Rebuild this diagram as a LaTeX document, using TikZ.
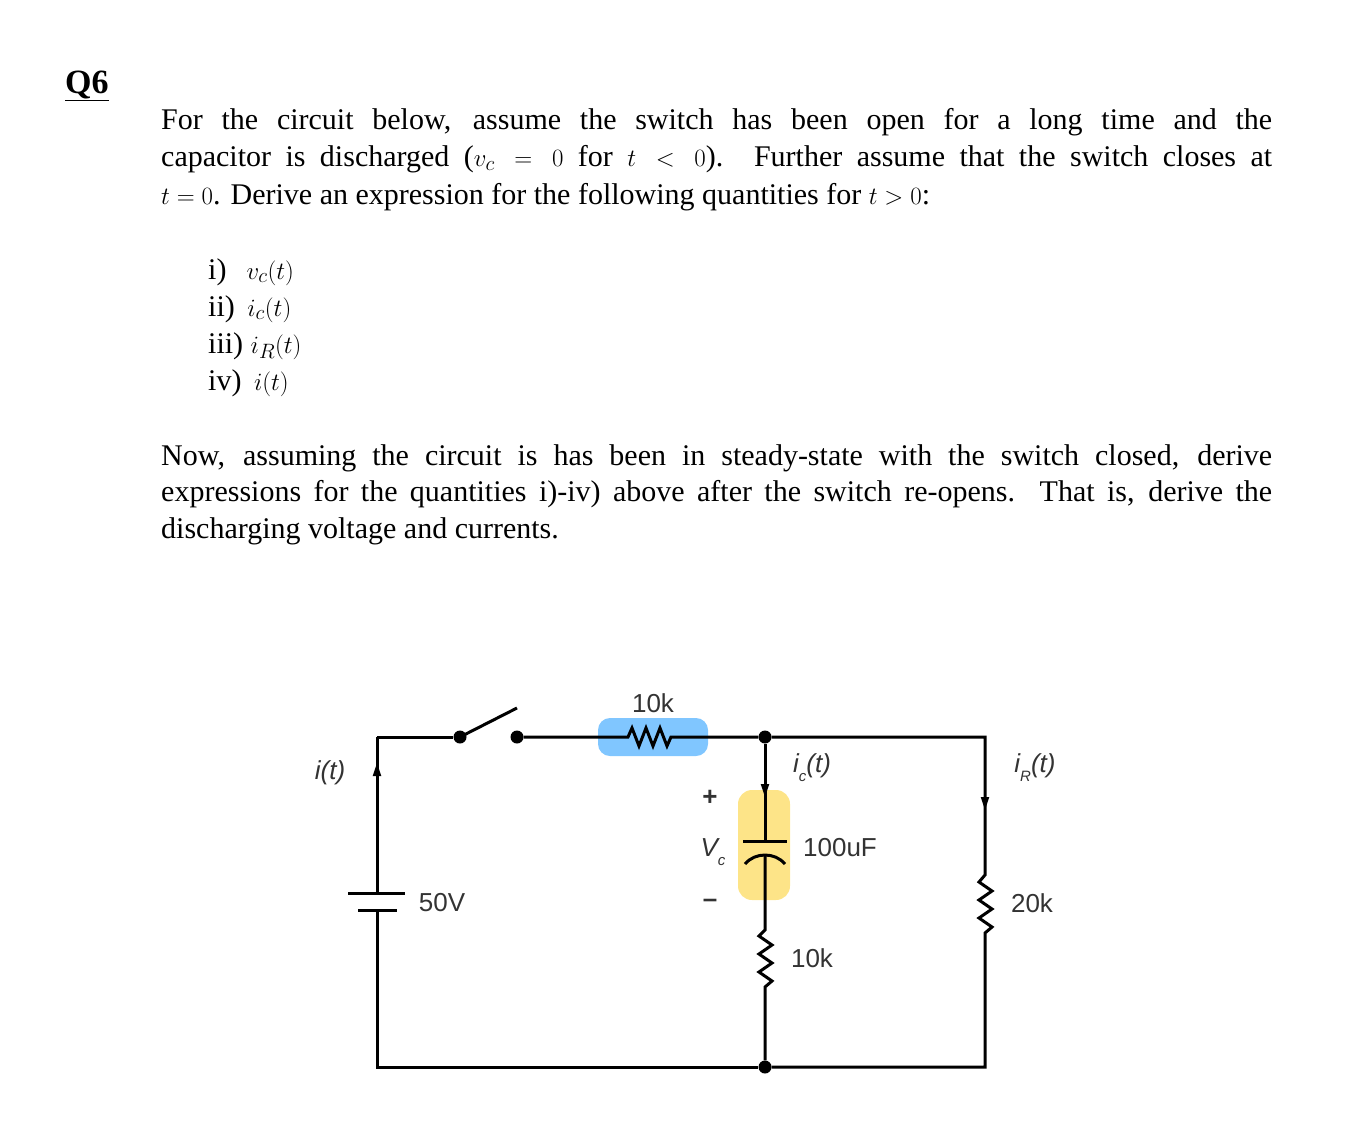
\documentclass[tikz,border=0pt]{standalone}
\usepackage{fontspec}
\setmainfont{Liberation Serif}
\newfontfamily\csans{Liberation Sans}
\usetikzlibrary{arrows.meta}
\tikzset{w/.style={line width=3pt,black},
lab/.style={font=\csans\fontsize{26}{28}\selectfont,text=black!80,inner sep=0pt},
dot/.style={circle,fill=black,inner sep=0pt,minimum size=13pt},
arr/.style={-{Triangle[length=13pt,width=8pt]}}}
\begin{document}
\begin{tikzpicture}[x=1pt,y=-1pt]
\useasboundingbox (0,0) rectangle (1366,1146);
\node[anchor=base west,inner sep=0pt,font=\fontsize{34}{36}\selectfont\bfseries] (q) at (65,93) {\underline{Q6}};
\node[anchor=north west,inner sep=0pt,text width=1111pt,align=justify,font=\fontsize{30}{37.5}\selectfont] (p1) at (161,108)
{For the circuit below, assume the switch has been open for a long time and the\linebreak capacitor is discharged ($v_c=0$ for $t<0$). Further assume that the switch closes at\linebreak $t=0$. Derive an expression for the following quantities for $t>0$:};
\node[anchor=north west,inner sep=0pt,align=left,font=\fontsize{30}{37}\selectfont] (l) at (208,258)
{i)\ \ \,$v_c(t)$\\ ii)\ \,$i_c(t)$\\ iii) $i_R(t)$\\ iv) \,$i(t)$};
\node[anchor=north west,inner sep=0pt,text width=1111pt,align=justify,font=\fontsize{30}{36.5}\selectfont] (p2) at (161,444)
{Now, assuming the circuit is has been in steady-state with the switch closed, derive\linebreak expressions for the quantities i)-iv) above after the switch re-opens. That is, derive the\linebreak discharging voltage and currents.};
% highlights
\fill[blue!45!cyan!50!white,rounded corners=12pt] (598,718) rectangle (708,756);
\fill[yellow!60!orange!45!white,rounded corners=14pt] (738,790) rectangle (790,900);
% nodes
\node[dot] (n1) at (765,737) {};
\node[dot] (n2) at (765,1067) {};
\node[dot] (s1) at (460,737) {};
\node[dot] (s2) at (517,737) {};
\coordinate (tl) at (377,737);
\coordinate (bl) at (377,1067);
\coordinate (tr) at (985,737);
\coordinate (br) at (985,1067);
% wires
\draw[w] (tl) -- (s1);
\draw[w] (s1.center) -- (517,708);
\draw[w] (s2) -- (608,737) -- (628,737) -- (632,728) -- (639,746) -- (646,728) -- (653,746) -- (660,728) -- (667,746) -- (671,737) -- (n1);
\draw[w,line join=miter] (n1) -- (tr) -- (985,875) -- (979,882) -- (992,891) -- (979,900) -- (992,909) -- (979,918) -- (992,927) -- (985,933) -- (br) -- (n2);
\draw[w,line join=miter] (n2) -- (bl) -- (377,910);
\draw[w] (377,893) -- (tl);
\draw[w] (348,893) -- (405,893);
\draw[w] (358,910) -- (397,910);
\draw[w] (n1) -- (765,841);
\draw[w] (743,841) -- (787,841);
\draw[w] (745,864) .. controls (755,852) and (775,852) .. (785,864);
\draw[w] (765,855) -- (765,930) -- (759,936) -- (772,945) -- (759,954) -- (772,963) -- (759,972) -- (772,981) -- (765,987) -- (n2);
% arrows
\draw[arr,line width=2pt] (377,795) -- (377,763);
\draw[arr,line width=2pt] (765,765) -- (765,797);
\draw[arr,line width=2pt] (985,780) -- (985,810);
% labels
\node[lab] (t1) at (653,703) {10k};
\node[lab] (t2) at (442,903) {50V};
\node[lab] (t3) at (330,773) {\itshape i(t)};
\node[lab] (t4) at (812,768) {\itshape i\raisebox{-9pt}{\fontsize{15}{15}\selectfont c}(t)};
\node[lab] (t5) at (1035,768) {\itshape i\raisebox{-9pt}{\fontsize{15}{15}\selectfont R}(t)};
\node[lab] (t6) at (710,798) {\bfseries +};
\node[lab] (t7) at (713,852) {\itshape V\raisebox{-9pt}{\fontsize{15}{15}\selectfont c}};
\node[lab] (t8) at (710,903) {\bfseries\textendash};
\node[lab] (t9) at (840,848) {100uF};
\node[lab] (t10) at (812,958) {10k};
\node[lab] (t11) at (1032,903) {20k};
\end{tikzpicture}
\end{document}
